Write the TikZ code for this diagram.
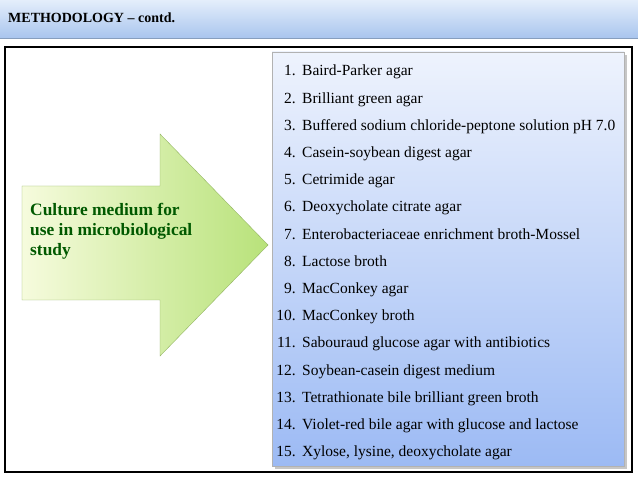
\documentclass[tikz,border=0pt]{standalone}
\usepackage{fontspec}
\setmainfont{Liberation Serif}
\begin{document}
\begin{tikzpicture}[x=1pt,y=-1pt,
  item/.style={anchor=base west,font=\fontsize{15.5}{18}\selectfont,inner sep=0pt},
  num/.style={anchor=base east,font=\fontsize{15.5}{18}\selectfont,inner sep=0pt},
  hdr/.style={anchor=west,font=\bfseries\fontsize{14}{16}\selectfont,inner sep=0pt},
  lbl/.style={anchor=north west,align=left,font=\bfseries\fontsize{17.4}{20}\selectfont,text=green!35!black,inner sep=0pt}]
\definecolor{hdrtop}{HTML}{E4EEFB}
\definecolor{hdrbot}{HTML}{A9C5EE}
\definecolor{lsttop}{HTML}{EEF3FD}
\definecolor{lstbot}{HTML}{9CBAF4}
\definecolor{arrl}{HTML}{F6FBDD}
\definecolor{arrd}{HTML}{B8E27A}
\useasboundingbox (0,0) rectangle (638,478);
\fill[white] (0,0) rectangle (638,478);
\shade[top color=hdrtop,bottom color=hdrbot] (0,0) rectangle (638,38);
\draw[hdrbot!80!black,line width=0.6pt] (0,38) -- (638,38);
\node[hdr] (h) at (8,18) {METHODOLOGY -- contd.};
\draw[line width=2pt] (5,47) rectangle (632,472);
\fill[gray!45] (275,55) rectangle (627,469);
\shade[top color=lsttop,bottom color=lstbot,draw=gray!60] (272,52) rectangle (624,466);
\shade[left color=arrl,right color=arrd,draw=arrd!80!black,line width=0.4pt]
  (22,186) -- (160,186) -- (160,134) -- (268,245) -- (160,356) -- (160,300) -- (22,300) -- cycle;
\node[lbl] (c) at (30,203) {Culture medium for\\use in microbiological\\study};
\foreach \i/\t [count=\k from 0] in {1/Baird-Parker agar,2/Brilliant green agar,3/Buffered sodium chloride-peptone solution pH 7.0,4/Casein-soybean digest agar,5/Cetrimide agar,6/Deoxycholate citrate agar,7/Enterobacteriaceae enrichment broth-Mossel,8/Lactose broth,9/MacConkey agar,10/MacConkey broth,11/Sabouraud glucose agar with antibiotics,12/Soybean-casein digest medium,13/Tetrathionate bile brilliant green broth,14/Violet-red bile agar with glucose and lactose,15/{Xylose, lysine, deoxycholate agar}}{
  \node[num] (n\i) at (296,76+27.2*\k) {\i.};
  \node[item] (t\i) at (302,76+27.2*\k) {\t};
}
\end{tikzpicture}
\end{document}
